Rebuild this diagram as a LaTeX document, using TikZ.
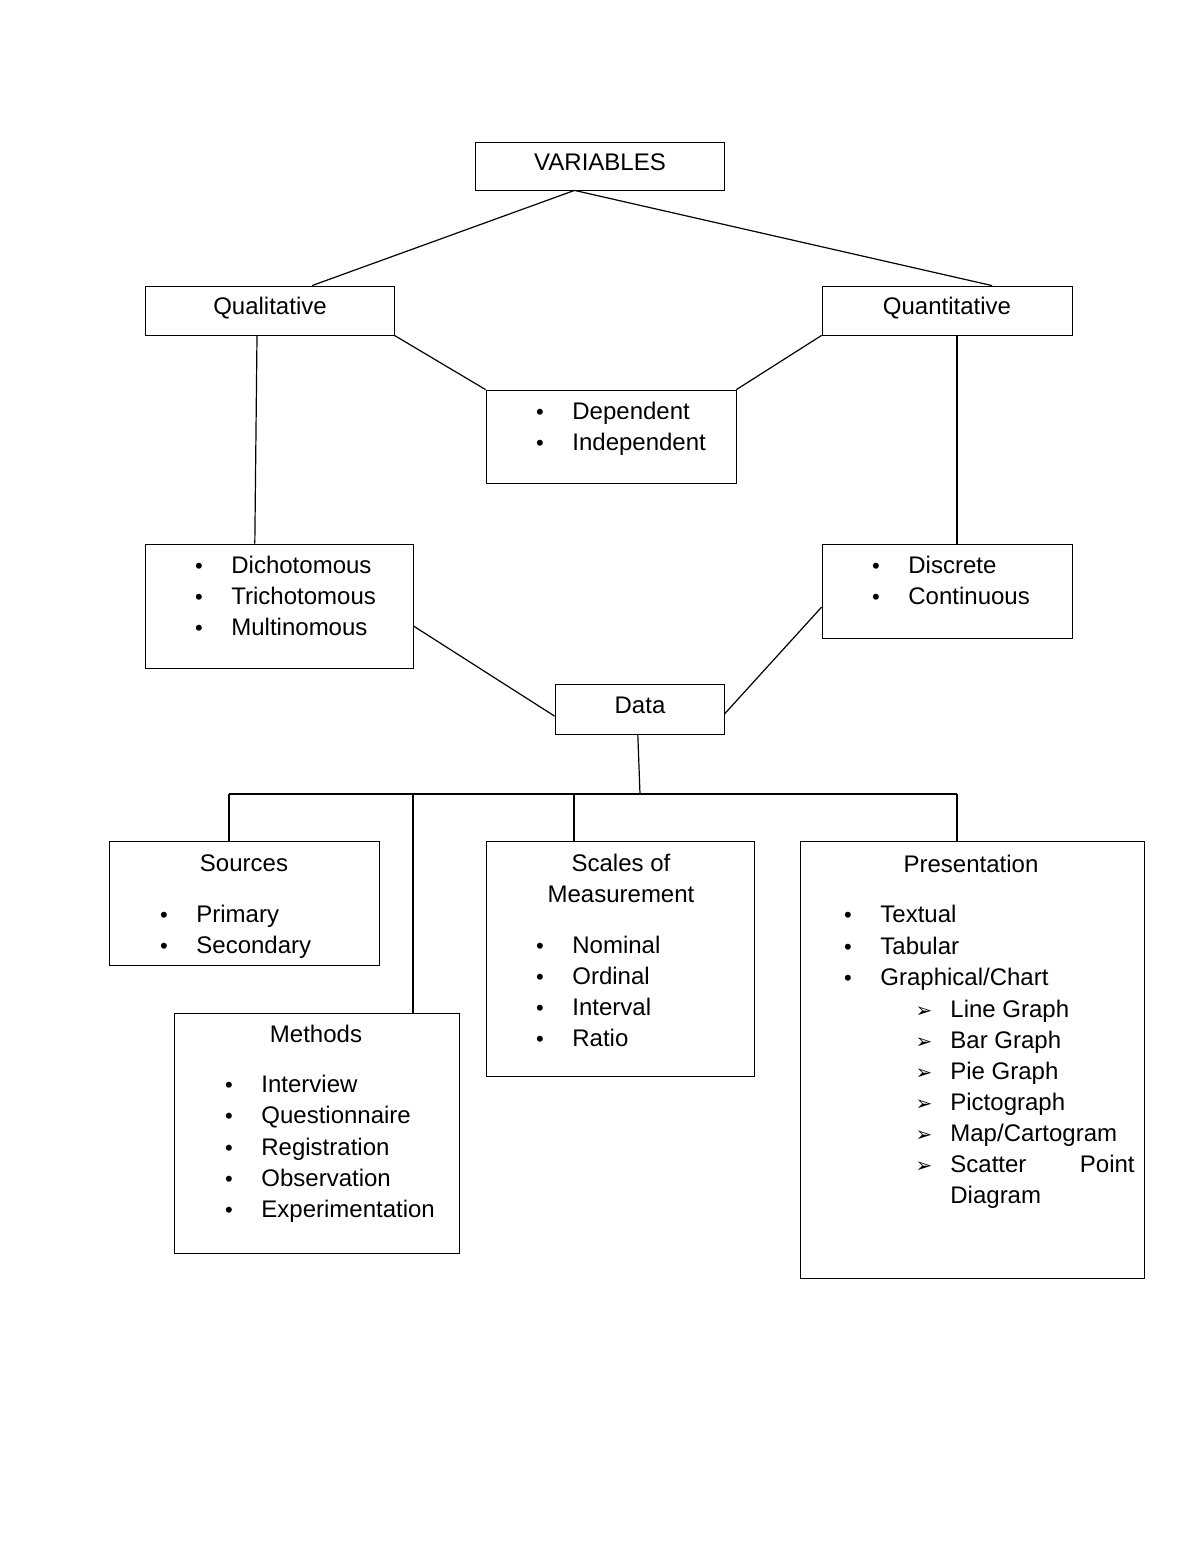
\documentclass[tikz,border=0pt]{standalone}
\usepackage{fontspec}
\setmainfont{Liberation Sans}
\newfontfamily\symfont{DejaVu Sans}
\usetikzlibrary{calc}
\tikzset{
  box/.style = {draw = black, rectangle, inner sep = 0},
  link/.style = {draw = black, line width = 0.6pt},
  txt/.style = {anchor = base west, inner sep = 0, font = \fontsize{12}{14}\selectfont},
  ttl/.style = {txt, anchor = base},
  bul/.style = {txt, anchor = base, font = \fontsize{11}{14}\selectfont},
  arw/.style = {txt, anchor = base, font = \symfont\fontsize{10}{14}\selectfont}
}
% box from pixel corners
\newcommand\pixbox[5]{%
  \node[box, minimum width = {(#4-#2)*0.5pt}, minimum height = {(#5-#3)*0.5pt}]
    (#1) at ({(#2+#4)/2},{(#3+#5)/2}) {};}
% bullet item
\newcommand\bulitem[3]{%
  \node[bul] at (#1,#3) {•};
  \node[txt] at ({#1+32},#3) {#2};}
\newcommand\arwitem[2]{%
  \node[arw] at (924,#2) {➢};
  \node[txt] at (950,#2) {#1};}
\begin{document}
\begin{tikzpicture}[x=0.5pt, y=-0.5pt]
    \useasboundingbox (0,0) rectangle (1200,1553);

    \pixbox{var}{475}{142}{724}{190}
    \pixbox{qual}{145}{286}{394}{335}
    \pixbox{quant}{822}{286}{1072}{335}
    \pixbox{dep}{486}{390}{736}{483}
    \pixbox{dich}{145}{544}{413}{668}
    \pixbox{disc}{822}{544}{1072}{638}
    \pixbox{data}{555}{684}{724}{734}
    \pixbox{src}{109}{841}{379}{965}
    \pixbox{meth}{174}{1013}{459}{1253}
    \pixbox{scale}{486}{841}{754}{1076}
    \pixbox{pres}{800}{841}{1144}{1278}

    \node[ttl] at (600,170) {VARIABLES};
    \node[ttl] at (270,314) {Qualitative};
    \node[ttl] at (947,314) {Quantitative};
    \bulitem{540}{Dependent}{419}
    \bulitem{540}{Independent}{450}
    \bulitem{199}{Dichotomous}{573}
    \bulitem{199}{Trichotomous}{604}
    \bulitem{199}{Multinomous}{635}
    \bulitem{876}{Discrete}{573}
    \bulitem{876}{Continuous}{604}
    \node[ttl] at (640,713) {Data};

    \node[ttl] at (244,871) {Sources};
    \bulitem{164}{Primary}{922}
    \bulitem{164}{Secondary}{953}

    \node[ttl] at (316,1042) {Methods};
    \bulitem{229}{Interview}{1092}
    \bulitem{229}{Questionnaire}{1123}
    \bulitem{229}{Registration}{1155}
    \bulitem{229}{Observation}{1186}
    \bulitem{229}{Experimentation}{1217}

    \node[ttl] at (621,871) {Scales of};
    \node[ttl] at (621,902) {Measurement};
    \bulitem{540}{Nominal}{953}
    \bulitem{540}{Ordinal}{984}
    \bulitem{540}{Interval}{1015}
    \bulitem{540}{Ratio}{1046}

    \node[ttl] at (971,872) {Presentation};
    \bulitem{848}{Textual}{922}
    \bulitem{848}{Tabular}{954}
    \bulitem{848}{Graphical/Chart}{985}
    \arwitem{Line Graph}{1017}
    \arwitem{Bar Graph}{1048}
    \arwitem{Pie Graph}{1079}
    \arwitem{Pictograph}{1110}
    \arwitem{Map/Cartogram}{1141}
    \arwitem{Scatter}{1172}
    \node[txt, anchor = base east] at (1135,1172) {Point};
    \node[txt] at (950,1203) {Diagram};

    \coordinate (var-s) at ($(var.south west)!0.4!(var.south east)$);
    \coordinate (data-s) at ($(data.south west)!0.49!(data.south east)$);
    \coordinate (bus) at (640,794);
    \draw[link] (var-s) -- ($(qual.north west)!0.67!(qual.north east)$);
    \draw[link] (var-s) -- ($(quant.north west)!0.68!(quant.north east)$);
    \draw[link] (qual.south east) -- (dep.north west);
    \draw[link] (quant.south west) -- (dep.north east);
    \draw[link] ($(qual.south west)!0.45!(qual.south east)$) -- ($(dich.north west)!0.41!(dich.north east)$);
    \draw[link] ($(quant.south west)!0.54!(quant.south east)$) -- ($(disc.north west)!0.54!(disc.north east)$);
    \draw[link] ($(dich.north east)!0.66!(dich.south east)$) -- ($(data.north west)!0.64!(data.south west)$);
    \draw[link] ($(disc.north west)!0.67!(disc.south west)$) -- ($(data.north east)!0.6!(data.south east)$);
    \draw[link] (data-s) -- (bus);
    \draw[link] (229,794) -- (957,794);
    \draw[link] (229,794) -- (src.north -| 229,0);
    \draw[link] (413,794) -- (meth.north -| 413,0);
    \draw[link] (574,794) -- (scale.north -| 574,0);
    \draw[link] (957,794) -- (pres.north -| 957,0);
\end{tikzpicture}
\end{document}
